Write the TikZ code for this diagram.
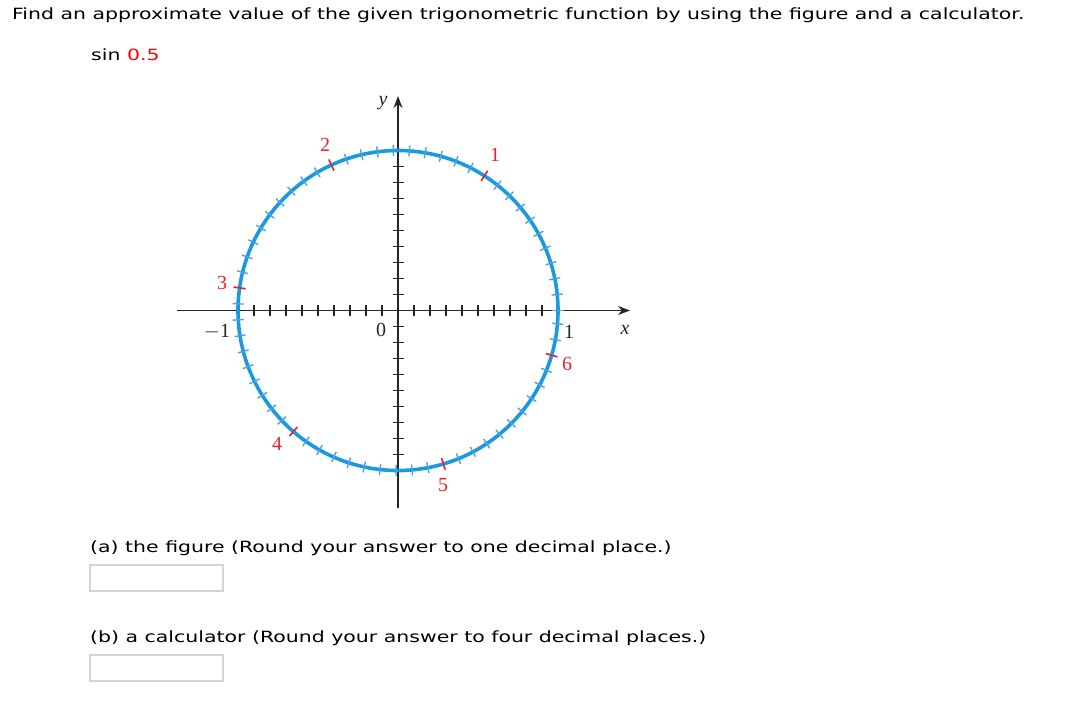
\documentclass[tikz,border=0pt]{standalone}
\usepackage{fontspec}
\setmainfont{DejaVu Sans}[FakeStretch=1.32]
\newfontfamily\figfont{Liberation Serif}
\usepackage{xcolor}
\usepackage{tikz}
\usetikzlibrary{arrows.meta,calc}
\definecolor{circblue}{RGB}{28,152,224}
\definecolor{tickblue}{RGB}{70,165,232}
\definecolor{markred}{RGB}{236,32,40}
\definecolor{axisgray}{RGB}{40,36,36}
\definecolor{boxgray}{RGB}{212,212,212}
\tikzset{
	x=1pt, y=-1pt, % one unit is one pixel, y going down
	>={Stealth[length=12pt,width=9pt]},
	axis/.style={->, line width=1.7pt, color=axisgray},
	axtick/.style={line width=1.4pt, color=axisgray},
	unitcirc/.style={line width=3.6pt, color=circblue},
	circtick/.style={line width=1.4pt, color=tickblue},
	radtick/.style={line width=1.5pt, color=markred},
	radlabel/.style={text=markred, font={\figfont\fontsize{20}{20}\selectfont}, inner sep=0pt},
	axlabel/.style={text=axisgray, font={\figfont\fontsize{20}{20}\selectfont}, inner sep=0pt},
	question/.style={anchor=base west, inner sep=0pt, font={\fontsize{15.5}{18}\selectfont}},
	ansbox/.style={draw=boxgray, line width=1.5pt, fill=white, minimum width=133pt, minimum height=26pt, inner sep=0pt},
}

\begin{document}
\begin{tikzpicture}
	\useasboundingbox (0,0) rectangle (1074,702);

	\node[question] (title) at (12,19) {Find an approximate value of the given trigonometric function by using the figure and a calculator.};
	\node[question] (func) at (91,60) {sin \textcolor{red}{0.5}};

	% axes
	\coordinate (O) at (398,310.5);
	\coordinate (xl) at (177,310.5);
	\coordinate (xr) at (630,310.5);
	\coordinate (yb) at (398,508);
	\coordinate (yt) at (398,96);
	\draw[axis] (xl) -- (xr);
	\draw[axis] (yb) -- (yt);
	\foreach \k in {-9,...,-1,1,2,...,9} {
		\draw[axtick] ($(O)+(\k*16,-5.5)$) -- ($(O)+(\k*16,5.5)$);
		\draw[axtick] ($(O)+(-5.5,\k*16)$) -- ($(O)+(5.5,\k*16)$);
	}

	% unit circle, ticks every 0.1 rad
	\begin{scope}[shift={(398,310.5)}, x=160pt, y=160pt]
		\draw[unitcirc] (0,0) circle (1);
		\foreach \k in {0,...,62}
			\draw[circtick] ({\k*5.729578}:0.965) -- ({\k*5.729578}:1.035);
		\foreach \k in {1,...,6}
			\draw[radtick] ({\k*57.29578}:0.962) -- ({\k*57.29578}:1.038);
	\end{scope}

	\node[radlabel] (r1) at (495,155) {1};
	\node[radlabel] (r2) at (325,145) {2};
	\node[radlabel] (r3) at (222,283) {3};
	\node[radlabel] (r4) at (277,444) {4};
	\node[radlabel] (r5) at (443,485) {5};
	\node[radlabel] (r6) at (567,364) {6};

	\node[axlabel] (ylab) at (383,103) {\itshape y};
	\node[axlabel] (xlab) at (625,330) {\itshape x};
	\node[axlabel] (mone) at (217,332) {$-$1};
	\node[axlabel] (zero) at (381,330) {0};
	\node[axlabel] (one) at (569,332) {1};

	\node[question] (qa) at (90,552) {(a) the figure (Round your answer to one decimal place.)};
	\node[ansbox] (boxa) at (156.5,578) {};
	\node[question] (qb) at (90,642) {(b) a calculator (Round your answer to four decimal places.)};
	\node[ansbox] (boxb) at (156.5,668) {};
\end{tikzpicture}
\end{document}
